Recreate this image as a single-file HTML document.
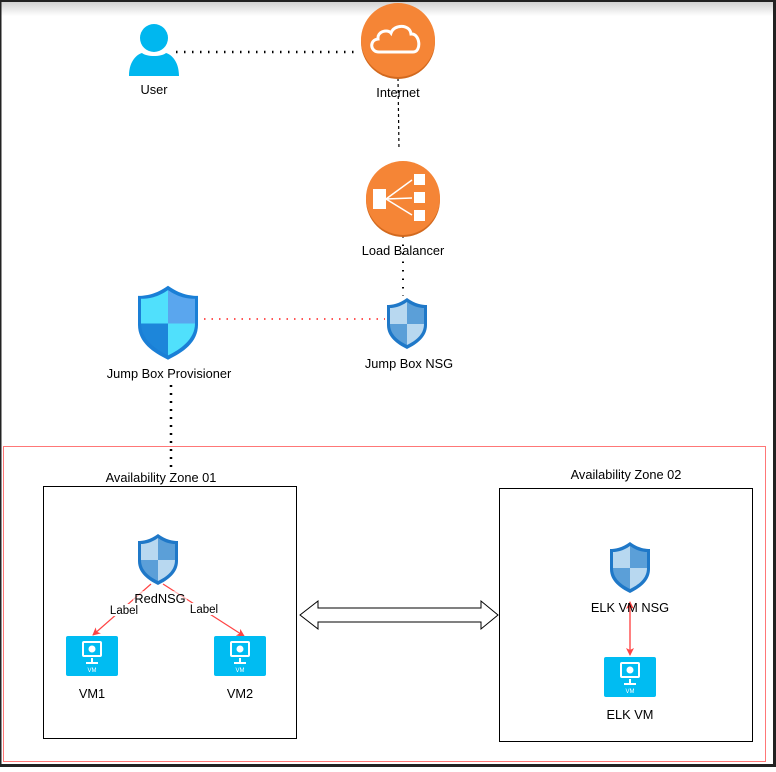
<!DOCTYPE html>
<html><head><style>
body{margin:0;width:776px;height:767px;overflow:hidden;background:#fff;font-family:"Liberation Sans",sans-serif}
</style></head><body>
<svg width="776" height="767" viewBox="0 0 776 767" xmlns="http://www.w3.org/2000/svg" font-family="Liberation Sans, sans-serif" font-size="12.8" fill="#000">
<defs>
<linearGradient id="tg" x1="0" y1="0" x2="0" y2="1"><stop offset="0" stop-color="#ccc"/><stop offset="1" stop-color="#fff"/></linearGradient>
<marker id="ar" markerWidth="8" markerHeight="8" refX="7" refY="4" orient="auto" markerUnits="userSpaceOnUse"><path d="M0,0 L8,4 L0,8 L2,4 z" fill="#f44"/></marker>
<g id="shB">
<path d="M0,-25 C8,-19 15,-18 20,-18 L20,2 C20,14 10,21 0,26 C-10,21 -20,14 -20,2 L-20,-18 C-15,-18 -8,-19 0,-25z" fill="#1f78c8"/>
<path d="M0,-21 C7,-16 13,-15 17,-15 L17,1 H0z" fill="#5b9fd8"/>
<path d="M0,-21 C-7,-16 -13,-15 -17,-15 L-17,1 H0z" fill="#b8d8f0"/>
<path d="M0,1 H17 C17,12 8,18 0,22z" fill="#b8d8f0"/>
<path d="M0,1 H-17 C-17,12 -8,18 0,22z" fill="#5b9fd8"/>
</g>
<g id="vm">
<rect x="0" y="0" width="52" height="40" rx="2" fill="#00bcf2"/>
<rect x="17" y="6" width="18" height="14" rx="1" fill="none" stroke="#fff" stroke-width="2"/>
<path d="M26,22 v4 M20,27 h12" stroke="#fff" stroke-width="2"/>
<circle cx="26" cy="13" r="3.5" fill="#fff"/>
<text x="26" y="36" font-size="6" fill="#fff" text-anchor="middle">VM</text>
</g>
</defs>
<rect x="0" y="0" width="776" height="16" fill="url(#tg)"/>
<rect x="0" y="0" width="776" height="2" fill="#222"/>
<rect x="0" y="0" width="1.5" height="767" fill="#222"/>
<rect x="773" y="0" width="3" height="767" fill="#222"/>
<rect x="0" y="764" width="776" height="3" fill="#222"/>

<line x1="176" y1="52" x2="360" y2="52" stroke="#000" stroke-width="2.5" stroke-dasharray="1.5,6.5"/>
<line x1="398" y1="78" x2="399" y2="150" stroke="#000" stroke-width="1.2" stroke-dasharray="3,3"/>
<line x1="403" y1="236" x2="403" y2="296" stroke="#000" stroke-width="2" stroke-dasharray="1.5,7"/>
<line x1="204" y1="319" x2="385" y2="319" stroke="#f55" stroke-width="2" stroke-dasharray="1.5,6"/>
<line x1="171" y1="385" x2="171" y2="470" stroke="#000" stroke-width="2.5" stroke-dasharray="2,6"/>

<circle cx="154" cy="38" r="14" fill="#00b7ef"/>
<path d="M129,76 C129,60 138,54 142,53 C147,57 161,57 166,53 C170,54 179,60 179,76z" fill="#00b7ef"/>
<text x="154" y="94" text-anchor="middle">User</text>

<circle cx="398" cy="42" r="37" fill="#d2691e"/>
<circle cx="398" cy="40" r="37" fill="#f58536"/>
<path d="M379,52 C370,52 369,40 378,39 C377,31 388,29 391,33 C394,24 410,24 411,34 C420,33 422,52 413,52z" fill="none" stroke="#fff" stroke-width="3"/>
<text x="398" y="97" text-anchor="middle">Internet</text>

<circle cx="403" cy="200" r="37" fill="#d2691e"/>
<circle cx="403" cy="198" r="37" fill="#f58536"/>
<rect x="373" y="189" width="13" height="20" fill="#fff"/>
<rect x="414" y="174" width="11" height="11" fill="#fff"/>
<rect x="414" y="192" width="11" height="11" fill="#fff"/>
<rect x="414" y="210" width="11" height="11" fill="#fff"/>
<path d="M386,199 L412,180 M386,199 L412,198 M386,199 L412,215" stroke="#fff" stroke-width="1.5"/>
<text x="403" y="255" text-anchor="middle">Load Balancer</text>

<g transform="translate(168,322) scale(1.5,1.45)">
<path d="M0,-25 C8,-19 15,-18 20,-18 L20,2 C20,14 10,21 0,26 C-10,21 -20,14 -20,2 L-20,-18 C-15,-18 -8,-19 0,-25z" fill="#1a7fd6"/>
<path d="M0,-22 C7,-17 13,-16 18,-16 L18,1 H0z" fill="#5aa6ee"/>
<path d="M0,-22 C-7,-17 -13,-16 -18,-16 L-18,1 H0z" fill="#50e0fc"/>
<path d="M0,1 H18 C18,12 8,19 0,23z" fill="#50e0fc"/>
<path d="M0,1 H-18 C-18,12 -8,19 0,23z" fill="#1d86da"/>
</g>
<text x="169" y="378" text-anchor="middle">Jump Box Provisioner</text>

<use href="#shB" transform="translate(407,323)"/>
<text x="409" y="368" text-anchor="middle">Jump Box NSG</text>

<rect x="3.5" y="446.5" width="762" height="315" fill="none" stroke="#f77" stroke-width="1"/>
<text x="161" y="482" text-anchor="middle">Availability Zone 01</text>
<rect x="43.5" y="486.5" width="253" height="252" fill="none" stroke="#000"/>
<text x="626" y="479" text-anchor="middle">Availability Zone 02</text>
<rect x="499.5" y="488.5" width="253" height="253" fill="none" stroke="#000"/>

<path d="M300,615 L318,601 L318,608 L481,608 L481,601 L498,615 L481,629 L481,622 L318,622 L318,629z" fill="#fff" stroke="#000" stroke-width="1"/>

<use href="#shB" transform="translate(158,559)"/>
<line x1="151" y1="584" x2="93" y2="635" stroke="#f44" stroke-width="1.2" marker-end="url(#ar)"/>
<line x1="163" y1="584" x2="244" y2="636" stroke="#f44" stroke-width="1.2" marker-end="url(#ar)"/>
<rect x="133" y="591" width="54" height="13" fill="#fff" opacity="0.6"/>
<text x="160" y="603" text-anchor="middle">RedNSG</text>
<rect x="107" y="604" width="34" height="12" fill="#fff"/>
<text x="124" y="614" text-anchor="middle" font-size="11.5">Label</text>
<rect x="187" y="603" width="34" height="12" fill="#fff"/>
<text x="204" y="613" text-anchor="middle" font-size="11.5">Label</text>
<use href="#vm" x="66" y="636"/>
<use href="#vm" x="214" y="636"/>
<text x="92" y="698" text-anchor="middle">VM1</text>
<text x="240" y="698" text-anchor="middle">VM2</text>

<use href="#shB" transform="translate(630,567)"/>
<line x1="630" y1="654" x2="630" y2="602" stroke="#f44" stroke-width="1.2" marker-end="url(#ar)"/>
<line x1="630" y1="610" x2="630" y2="655" stroke="#f44" stroke-width="1.2" marker-end="url(#ar)"/>
<text x="630" y="612" text-anchor="middle">ELK VM NSG</text>
<use href="#vm" x="604" y="657"/>
<text x="630" y="719" text-anchor="middle">ELK VM</text>
</svg>
</body></html>
